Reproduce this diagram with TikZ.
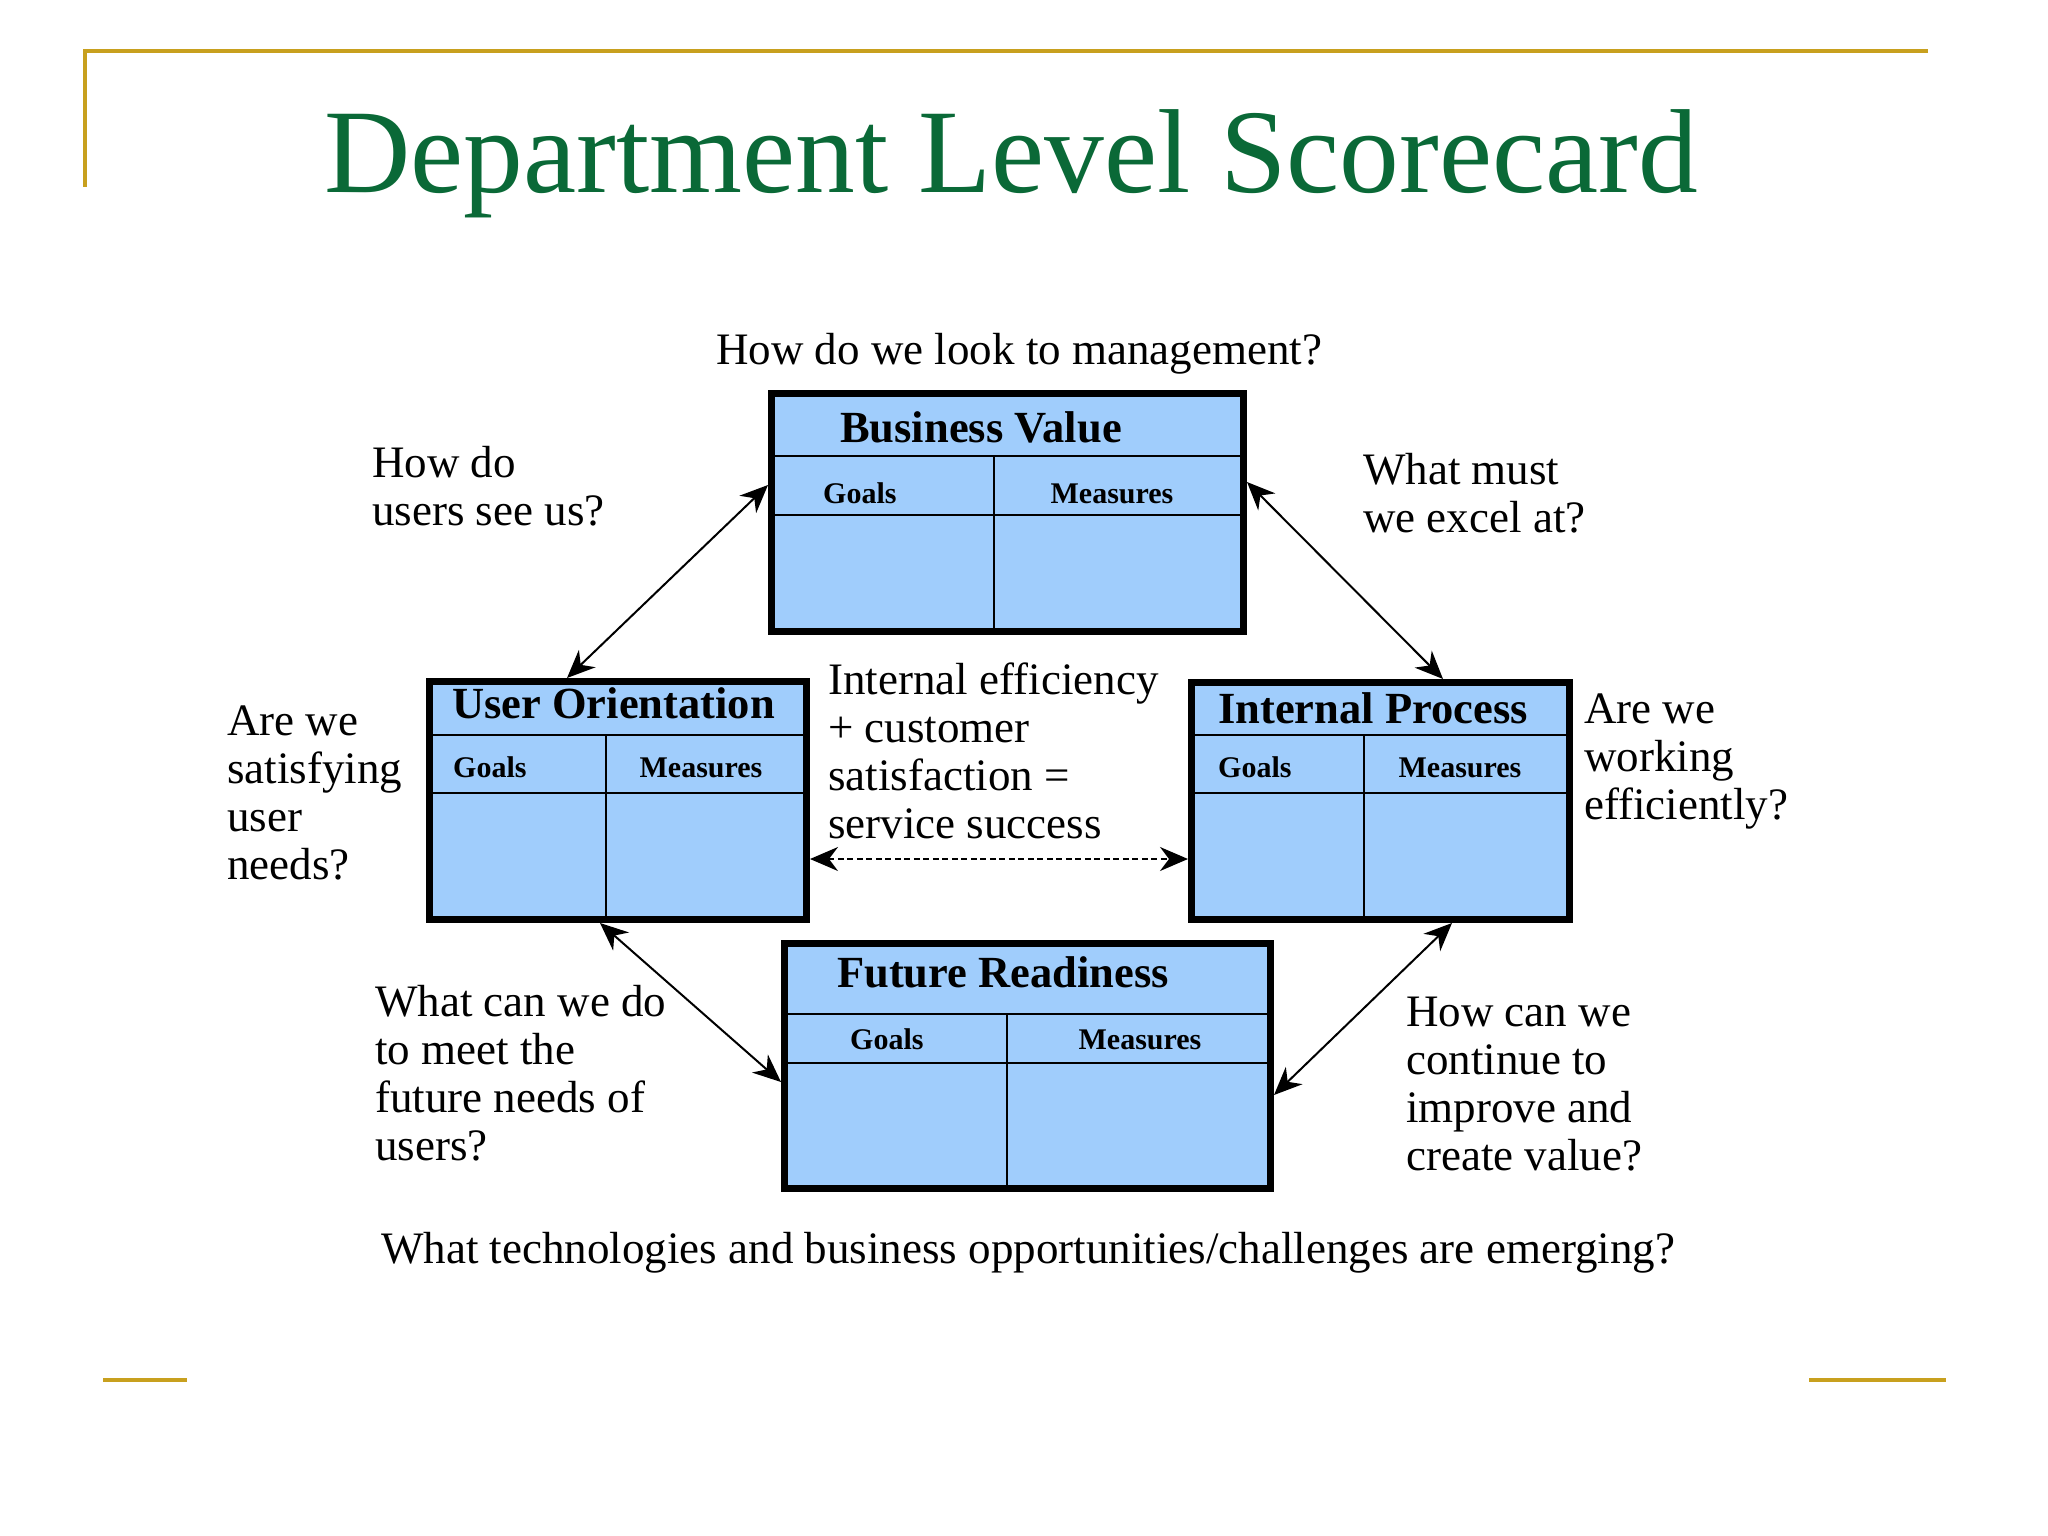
\documentclass[tikz,border=0pt]{standalone}
\usepackage{fontspec}
\setmainfont{Liberation Serif}
\usetikzlibrary{arrows.meta,calc}
\definecolor{boxblue}{RGB}{160,205,252}
\definecolor{titlegreen}{RGB}{10,105,55}
\definecolor{gold}{RGB}{200,160,30}
\tikzset{
  card/.style={draw=black, line width=7pt, fill=boxblue, inner sep=0pt},
  divider/.style={line width=2.5pt},
  cardtitle/.style={font=\fontsize{44.5}{48}\selectfont\bfseries, inner sep=0pt},
  colhead/.style={font=\fontsize{30}{34}\selectfont\bfseries, inner sep=0pt, anchor=base},
  question/.style={font=\fontsize{45}{48}\selectfont, align=left, inner sep=0pt, anchor=base west},
  link/.style={line width=2pt, {Stealth[length=28pt,width=24pt,inset=9pt]}-{Stealth[length=28pt,width=24pt,inset=9pt]}},
  dlink/.style={link, dash pattern=on 6pt off 3.5pt},
  framegold/.style={draw=gold, line width=4pt},
}
\begin{document}
\begin{tikzpicture}[x=1pt,y=-1pt]
\useasboundingbox[fill=white] (0,0) rectangle (2048,1536);
% gold frame
\draw[framegold] (1928,51) -- (85,51) -- (85,187);
\draw[framegold] (103,1380) -- (187,1380);
\draw[framegold] (1809,1380) -- (1946,1380);
% title
\node[font=\fontsize{119.5}{130}\selectfont, text=titlegreen, anchor=base west, inner sep=0pt] (title) at (324,193) {Department Level Scorecard};
% cards
\node[card, minimum width=472, minimum height=238] (bv) at (1007.5,512.5) {};
\node[card, minimum width=377, minimum height=238] (uo) at (618,800.5) {};
\node[card, minimum width=378, minimum height=237] (ip) at (1380.5,801) {};
\node[card, minimum width=486, minimum height=245] (fr) at (1027.5,1066) {};
% inner lines
\draw[divider] (bv.west |- 0,456) -- (bv.east |- 0,456);
\draw[divider] (bv.west |- 0,515) -- (bv.east |- 0,515);
\draw[divider] (994,456) -- (bv.south -| 994,0);
\draw[divider] (uo.west |- 0,735) -- (uo.east |- 0,735);
\draw[divider] (uo.west |- 0,793) -- (uo.east |- 0,793);
\draw[divider] (606,735) -- (uo.south -| 606,0);
\draw[divider] (ip.west |- 0,735) -- (ip.east |- 0,735);
\draw[divider] (ip.west |- 0,793) -- (ip.east |- 0,793);
\draw[divider] (1364,735) -- (ip.south -| 1364,0);
\draw[divider] (fr.west |- 0,1014) -- (fr.east |- 0,1014);
\draw[divider] (fr.west |- 0,1063) -- (fr.east |- 0,1063);
\draw[divider] (1007,1014) -- (fr.south -| 1007,0);
% card texts
\node[cardtitle, anchor=base] (bvt) at (981,442) {Business Value};
\node[colhead, anchor=base west] (bvg) at (823,503) {Goals};
\node[colhead] (bvm) at (1112,503) {Measures};
\node[cardtitle, anchor=base west] (uot) at (452,718) {User Orientation};
\node[colhead, anchor=base west] (uog) at (453,777) {Goals};
\node[colhead] (uom) at (701,777) {Measures};
\node[cardtitle, anchor=base west] (ipt) at (1218,723) {Internal Process};
\node[colhead, anchor=base west] (ipg) at (1218,777) {Goals};
\node[colhead] (ipm) at (1460,777) {Measures};
\node[cardtitle, anchor=base west] (frt) at (837,987) {Future Readiness};
\node[colhead, anchor=base west] (frg) at (850,1049) {Goals};
\node[colhead] (frm) at (1140,1049) {Measures};
% questions (anchor = baseline of last line)
\node[question] (q1) at (716,364) {How do we look to management?};
\node[question] (q2) at (372,525) {How do\\users see us?};
\node[question] (q3) at (1363,532) {What must\\we excel at?};
\node[question] (q4) at (227,879) {Are we\\satisfying\\user\\needs?};
\node[question] (q5) at (828,838) {Internal efficiency\\+ customer\\satisfaction =\\service success};
\node[question] (q6) at (1584,819) {Are we\\working\\efficiently?};
\node[question] (q7) at (375,1160) {What can we do\\to meet the\\future needs of\\users?};
\node[question] (q8) at (1406,1170) {How can we\\continue to\\improve and\\create value?};
\node[question] (q9) at (381,1263) {What technologies and business opportunities/challenges are emerging?};
% connectors
\draw[link] ([yshift=27.5]bv.west) -- ([xshift=-51]uo.north);
\draw[link] ([yshift=30.5]bv.east) -- ([xshift=62.5]ip.north);
\draw[link] ([xshift=-18]uo.south) -- ([yshift=-16]fr.west);
\draw[link] ([xshift=71.5]ip.south) -- ([yshift=-29]fr.east);
\draw[dlink] ([yshift=-58.5]uo.east) -- ([yshift=-58]ip.west);
\end{tikzpicture}
\end{document}
